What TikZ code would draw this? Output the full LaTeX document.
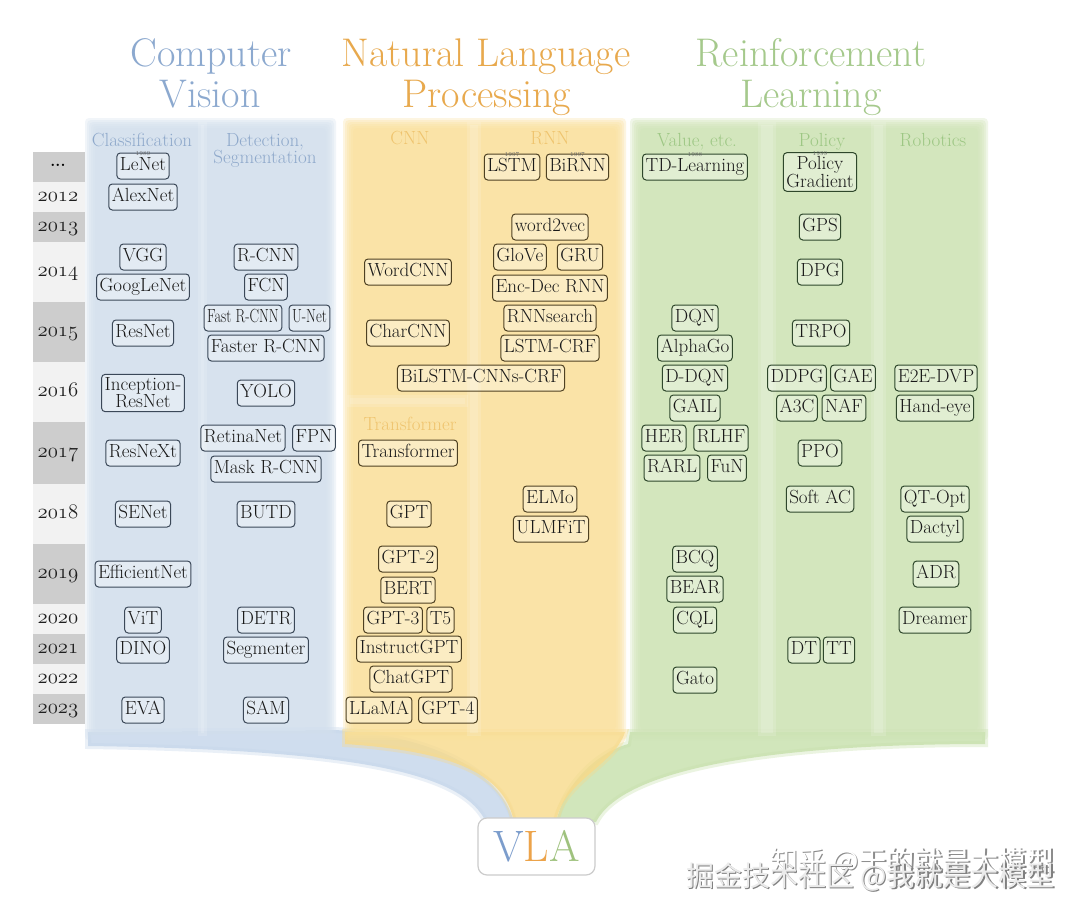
\documentclass[tikz,border=0pt]{standalone}
\usepackage{fontspec}
\usepackage{graphicx}
\newfontfamily\cjkfont{Noto Sans CJK SC}
\usetikzlibrary{calc}
\definecolor{cvband}{HTML}{D3E0EE}
\definecolor{nlpband}{HTML}{FAE19C}
\definecolor{rlband}{HTML}{CFE4B6}
\definecolor{fanblue}{HTML}{C4D5EA}
\definecolor{fanyel}{HTML}{F8DA8A}
\definecolor{fangrn}{HTML}{C6E0AA}
\definecolor{cvline}{HTML}{3B4858}
\definecolor{nlpline}{HTML}{4E4122}
\definecolor{rlline}{HTML}{2E472B}
\definecolor{cvtitle}{HTML}{8CA9CF}
\definecolor{nlptitle}{HTML}{E8A94D}
\definecolor{rltitle}{HTML}{A5C98C}
\definecolor{cvsub}{HTML}{8FA9CB}
\definecolor{nlpsub}{HTML}{EFC46E}
\definecolor{rlsub}{HTML}{9DC784}
\definecolor{yrdark}{HTML}{CDCDCD}
\definecolor{yrlight}{HTML}{F2F2F2}
\definecolor{vlab}{HTML}{7C9DCC}
\definecolor{vlao}{HTML}{ECA34A}
\definecolor{vlag}{HTML}{9FC27E}
\newcommand\softrect[5]{%
  \foreach \kk in {0,...,5}{\fill[#1,opacity=0.3,rounded corners=4pt] (#2+2*\kk,#3+2*\kk) rectangle (#4-2*\kk,#5-2*\kk);}}
\newcommand\seamrect[4]{%
  \fill[white,opacity=0.14] (#1,#2) rectangle (#3,#4);
  \fill[white,opacity=0.14] (#1+3,#2+3) rectangle (#3-3,#4-3);}
\tikzset{
  mbox/.style={draw, rounded corners=3.5pt, line width=1pt, fill=white, fill opacity=0.32,
    text opacity=1, inner xsep=3pt, inner ysep=4pt, font=\fontsize{19}{17}\selectfont, text=black!90},
  one/.style={text height=13.5pt, text depth=4.5pt},
  cvn/.style={mbox, one, draw=cvline},
  nlpn/.style={mbox, one, draw=nlpline},
  rln/.style={mbox, one, draw=rlline},
  cvtwo/.style={mbox, draw=cvline, align=center, inner ysep=3.5pt},
  rltwo/.style={mbox, draw=rlline, align=center, inner ysep=3.5pt},
  yrlbl/.style={font=\fontsize{6}{6}\selectfont, text=black!60, inner sep=0pt},
  yearnum/.style={font=\fontsize{21}{21}\usefont{OML}{cmm}{m}{it}, text=black!88, inner sep=0pt, anchor=base},
  ttl/.style={font=\fontsize{40}{40}\selectfont, inner sep=0pt, anchor=base},
  sub/.style={font=\fontsize{19}{18}\selectfont, inner sep=0pt, anchor=base},
  wm/.style={font=\cjkfont\fontsize{28}{28}\selectfont, anchor=east, inner sep=0pt}
}
\begin{document}
\begin{tikzpicture}[x=1pt,y=-1pt]
\useasboundingbox (0,0) rectangle (1080,914);
\fill[white] (0,0) rectangle (1080,914);

% fans toward VLA
\path[fill=fanblue,fill opacity=0.8,draw=fanblue,draw opacity=0.35,line width=6pt] (88,732) -- (335,730) .. controls (430,735) and (500,770) .. (514,822) -- (486,822) .. controls (465,778) and (380,750) .. (88,746) -- cycle;
\path[fill=fangrn,fill opacity=0.8,draw=fangrn,draw opacity=0.35,line width=6pt] (630,732) -- (985,732) -- (985,744) .. controls (790,744) and (625,765) .. (596,822) -- (556,822) .. controls (566,780) and (600,752) .. (628,744) -- cycle;
\path[fill=fanyel,fill opacity=0.8,draw=fanyel,draw opacity=0.35,line width=6pt] (345,732) -- (625,732) .. controls (615,765) and (562,782) .. (556,822) -- (514,822) .. controls (506,782) and (470,752) .. (345,744) -- cycle;

% bands
\softrect{cvband}{85}{118}{336}{740}
\softrect{nlpband}{343}{118}{626}{740}
\softrect{rlband}{630}{118}{988}{740}
\seamrect{198}{122}{207}{736}
\seamrect{467}{122}{481}{736}
\seamrect{347}{395}{468}{407}
\seamrect{758}{122}{776}{736}
\seamrect{871}{122}{886}{736}

% year column
\fill[yrdark] (33,152) rectangle (85,182);
\node[font=\fontsize{16}{16}\selectfont\bfseries, inner sep=0pt] (yr0) at (58,165) {...};
\foreach \ya/\yb/\col/\lab [count=\i] in {182/212/yrlight/2012, 212/242/yrdark/2013, 242/302/yrlight/2014, 302/362/yrdark/2015, 362/422/yrlight/2016, 422/484/yrdark/2017, 484/544/yrlight/2018, 544/604/yrdark/2019, 604/634/yrlight/2020, 634/664/yrdark/2021, 664/694/yrlight/2022, 694/724/yrdark/2023}{
  \fill[\col] (33,\ya) rectangle (85,\yb);
  \node[yearnum] (yr\i) at (58,{(\ya+\yb)/2+4.5}) {\lab};
}

% titles
\node[ttl, text=cvtitle] (t1a) at (211,66) {Computer};
\node[ttl, text=cvtitle] (t1b) at (210,107) {Vision};
\node[ttl, text=nlptitle] (t2a) at (486,66) {Natural Language};
\node[ttl, text=nlptitle] (t2b) at (487,107) {Processing};
\node[ttl, text=rltitle] (t3a) at (811,66) {Reinforcement};
\node[ttl, text=rltitle] (t3b) at (811,107) {Learning};

% sub headers
\node[sub, text=cvsub] (s1) at (142,146) {Classification};
\node[sub, text=cvsub] (s2) at (265,146) {Detection,};
\node[sub, text=cvsub] (s3) at (265,163) {Segmentation};
\node[sub, text=nlpsub] (s4) at (410,144) {CNN};
\node[sub, text=nlpsub] (s5) at (550,144) {RNN};
\node[sub, text=nlpsub] (s6) at (410,430) {Transformer};
\node[sub, text=rlsub] (s7) at (697,146) {Value, etc.};
\node[sub, text=rlsub] (s8) at (822,146) {Policy};
\node[sub, text=rlsub] (s9) at (933,146) {Robotics};

% CV nodes
\node[cvn] (lenet) at (143,166) {LeNet};
\node[cvn] (alexnet) at (143,197) {AlexNet};
\node[cvn] (vgg) at (143,257) {VGG};
\node[cvn] (googlenet) at (143,287) {GoogLeNet};
\node[cvn] (resnet) at (143,333) {ResNet};
\node[cvtwo] (incres) at (143,393) {Inception-\\ResNet};
\node[cvn] (resnext) at (143,453) {ResNeXt};
\node[cvn] (senet) at (143,514) {SENet};
\node[cvn] (effnet) at (143,574) {EfficientNet};
\node[cvn] (vit) at (143,620) {ViT};
\node[cvn] (dino) at (143,650) {DINO};
\node[cvn] (eva) at (143,710) {EVA};
\node[cvn] (rcnn) at (266,257) {R-CNN};
\node[cvn] (fcn) at (266,287) {FCN};
\node[cvn] (fastrcnn) at (243,318) {\scalebox{0.75}[1]{Fast R-CNN}};
\node[cvn] (unet) at (309.5,318) {\scalebox{0.75}[1]{U-Net}};
\node[cvn] (fasterrcnn) at (266,348) {Faster R-CNN};
\node[cvn] (yolo) at (266,393) {YOLO};
\node[cvn] (retinanet) at (243,438) {RetinaNet};
\node[cvn] (fpn) at (314,438) {FPN};
\node[cvn] (maskrcnn) at (266,469) {Mask R-CNN};
\node[cvn] (butd) at (266,514) {BUTD};
\node[cvn] (detr) at (266,620) {DETR};
\node[cvn] (segmenter) at (266,650) {Segmenter};
\node[cvn] (sam) at (266,710) {SAM};

% NLP nodes
\node[nlpn] (wordcnn) at (408,272) {WordCNN};
\node[nlpn] (charcnn) at (408,333) {CharCNN};
\node[nlpn] (bilstm) at (481,378) {BiLSTM-CNNs-CRF};
\node[nlpn] (transformer) at (408,453) {Transformer};
\node[nlpn] (gpt) at (409,514) {GPT};
\node[nlpn] (gpt2) at (408,559) {GPT-2};
\node[nlpn] (bert) at (408,590) {BERT};
\node[nlpn] (gpt3) at (393,620) {GPT-3};
\node[nlpn] (t5) at (440.5,620) {T5};
\node[nlpn] (instructgpt) at (409,649) {InstructGPT};
\node[nlpn] (chatgpt) at (411,679) {ChatGPT};
\node[nlpn] (llama) at (379,710) {LLaMA};
\node[nlpn] (gpt4) at (448,710) {GPT-4};
\node[nlpn] (lstm) at (512,167) {LSTM};
\node[nlpn] (birnn) at (577.5,167) {BiRNN};
\node[nlpn] (word2vec) at (550,227) {word2vec};
\node[nlpn] (glove) at (520,257) {GloVe};
\node[nlpn] (gru) at (580,257) {GRU};
\node[nlpn] (encdec) at (550,288) {Enc-Dec RNN};
\node[nlpn] (rnnsearch) at (550,318) {RNNsearch};
\node[nlpn] (lstmcrf) at (550,348) {LSTM-CRF};
\node[nlpn] (elmo) at (550,499) {ELMo};
\node[nlpn] (ulmfit) at (551,529) {ULMFiT};

% RL nodes
\node[rln] (tdl) at (695,167) {TD-Learning};
\node[rltwo] (pg) at (820,172) {Policy\\Gradient};
\node[rln] (gps) at (820,227) {GPS};
\node[rln] (dpg) at (820,272) {DPG};
\node[rln] (dqn) at (695,318) {DQN};
\node[rln] (alphago) at (695,348) {AlphaGo};
\node[rln] (trpo) at (821,333) {TRPO};
\node[rln] (ddqn) at (695,378) {D-DQN};
\node[rln] (ddpg) at (797,378) {DDPG};
\node[rln] (gae) at (853,378) {GAE};
\node[rln] (e2e) at (936,378) {E2E-DVP};
\node[rln] (gail) at (695,408) {GAIL};
\node[rln] (a3c) at (797,408) {A3C};
\node[rln] (naf) at (844,408) {NAF};
\node[rln] (handeye) at (935,408) {Hand-eye};
\node[rln] (her) at (664,438) {HER};
\node[rln] (rlhf) at (721,438) {RLHF};
\node[rln] (rarl) at (672,468) {RARL};
\node[rln] (fun) at (727,468) {FuN};
\node[rln] (ppo) at (820,453) {PPO};
\node[rln] (softac) at (820,499) {Soft AC};
\node[rln] (qtopt) at (935,499) {QT-Opt};
\node[rln] (dactyl) at (935,529) {Dactyl};
\node[rln] (bcq) at (695,559) {BCQ};
\node[rln] (bear) at (695,589) {BEAR};
\node[rln] (adr) at (936,574) {ADR};
\node[rln] (cql) at (695,620) {CQL};
\node[rln] (dreamer) at (935,620) {Dreamer};
\node[rln] (dt) at (804,650) {DT};
\node[rln] (tt) at (839,650) {TT};
\node[rln] (gato) at (695,680) {Gato};

% small years
\node[yrlbl] (lenetyr) at ([yshift=-1pt]lenet.north) {1989};
\node[yrlbl] (lstmyr) at ([yshift=-1pt]lstm.north) {1997};
\node[yrlbl] (birnnyr) at ([yshift=-1pt]birnn.north) {1997};
\node[yrlbl] (tdlyr) at ([yshift=-1pt]tdl.north) {1988};
\node[yrlbl] (pgyr) at ([yshift=-1pt]pg.north) {1999};

% VLA
\node[draw=black!20, line width=1.2pt, rounded corners=9pt, fill=white, minimum width=117pt, minimum height=57pt, inner sep=0pt, font=\fontsize{44}{44}\selectfont] (vla) at (536.5,846.5) {\textcolor{vlab}{V}\textcolor{vlao}{L}\textcolor{vlag}{A}};

% watermarks
\node[wm, text=black!45] (wmas) at (1056.5,863.5) {知乎 @干的就是大模型};
\node[wm, text=white] (wma) at (1055,862) {知乎 @干的就是大模型};
\node[wm, text=black!50] (wmbs) at (1056.5,878.5) {掘金技术社区 @我就是大模型};
\node[wm, text=white!92!black] (wmb) at (1055,877) {掘金技术社区 @我就是大模型};
\end{tikzpicture}
\end{document}
